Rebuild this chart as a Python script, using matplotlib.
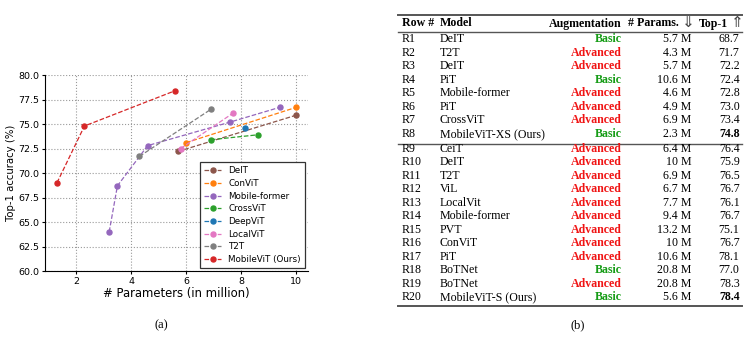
import numpy as np
import matplotlib
matplotlib.use("Agg")
import matplotlib.pyplot as plt

# model families: (params in million, top-1 accuracy)
deit_params = [5.7, 10.0]
deit_acc = [72.2, 75.9]
convit_params = [6.0, 10.0]
convit_acc = [73.1, 76.7]
mobileformer_params = [3.2, 3.5, 4.6, 7.6, 9.4]
mobileformer_acc = [64.0, 68.7, 72.8, 75.2, 76.7]
crossvit_params = [6.9, 8.6]
crossvit_acc = [73.4, 73.9]
deepvit_params = [8.15]
deepvit_acc = [74.6]
localvit_params = [5.8, 7.7]
localvit_acc = [72.5, 76.1]
t2t_params = [4.3, 6.9]
t2t_acc = [71.7, 76.5]
mobilevit_params = [1.3, 2.3, 5.6]
mobilevit_acc = [69.0, 74.8, 78.4]

# table rows
row_ids = ["R%d" % i for i in range(1, 21)]
models = ["DeIT", "T2T", "DeIT", "PiT", "Mobile-former", "PiT", "CrossViT",
          "MobileViT-XS (Ours)", "CeiT", "DeIT", "T2T", "ViL", "LocalVit",
          "Mobile-former", "PVT", "ConViT", "PiT", "BoTNet", "BoTNet",
          "MobileViT-S (Ours)"]
augment = ["Basic", "Advanced", "Advanced", "Basic", "Advanced", "Advanced",
           "Advanced", "Basic", "Advanced", "Advanced", "Advanced", "Advanced",
           "Advanced", "Advanced", "Advanced", "Advanced", "Advanced", "Basic",
           "Advanced", "Basic"]
params = [5.7, 4.3, 5.7, 10.6, 4.6, 4.9, 6.9, 2.3, 6.4, 10, 6.9, 6.7, 7.7,
          9.4, 13.2, 10, 10.6, 20.8, 20.8, 5.6]
top1 = [68.7, 71.7, 72.2, 72.4, 72.8, 73.0, 73.4, 74.8, 76.4, 75.9, 76.5,
        76.7, 76.1, 76.7, 75.1, 76.7, 78.1, 77.0, 78.3, 78.4]
ours = [7, 19]

fig = plt.figure(figsize=(7.55, 3.41), dpi=100)

# ---- (a) accuracy vs. size ----
ax = fig.add_axes([0.0596, 0.205, 0.3484, 0.575])
series = [
    ("DeIT", deit_params, deit_acc, "tab:brown"),
    ("ConViT", convit_params, convit_acc, "tab:orange"),
    ("Mobile-former", mobileformer_params, mobileformer_acc, "tab:purple"),
    ("CrossViT", crossvit_params, crossvit_acc, "tab:green"),
    ("DeepViT", deepvit_params, deepvit_acc, "tab:blue"),
    ("LocalViT", localvit_params, localvit_acc, "tab:pink"),
    ("T2T", t2t_params, t2t_acc, "tab:gray"),
    ("MobileViT (Ours)", mobilevit_params, mobilevit_acc, "tab:red"),
]
for name, xs, ys, c in series:
    ax.plot(xs, ys, "--o", color=c, label=name, markersize=3.6, linewidth=0.9)

ax.set_ylim(60, 80)
ax.set_yticks(np.arange(60, 80.1, 2.5))
ax.set_xticks([2, 4, 6, 8, 10])
ax.tick_params(labelsize=6.8, length=2.5, width=0.8, pad=1.5)
ax.set_xlabel("# Parameters (in million)", fontsize=8.4, labelpad=1)
ax.set_ylabel("Top-1 accuracy (%)", fontsize=7.3, labelpad=2)
ax.grid(True, linestyle=":", color="#999999", linewidth=0.8)
ax.spines["top"].set_visible(False)
ax.spines["right"].set_visible(False)
leg = ax.legend(loc="lower right", fontsize=6.3, framealpha=1, fancybox=False,
                edgecolor="#333333", borderpad=0.5, labelspacing=0.42,
                handlelength=2.0, handletextpad=0.8, borderaxespad=0.3)
leg.get_frame().set_linewidth(0.9)
fig.text(161 / 755, 1 - 325 / 341, "(a)", ha="center", va="center",
         fontsize=9, family="Liberation Serif")

# ---- (b) table drawn in pixel coordinates ----
tb = fig.add_axes([0, 0, 1, 1])
tb.set_xlim(0, 755)
tb.set_ylim(341, 0)
tb.axis("off")

serif = ["Liberation Serif", "DejaVu Sans"]
fs = 8.6
x_l, x_r = 398, 742
col_row, col_model, col_aug, col_par, col_top = 401.5, 439.5, 621.5, 691.5, 739.5
green, red = "#169c16", "#f01414"

tb.plot([x_l, x_r], [15, 15], color="#555555", lw=1.4)
tb.plot([x_l, x_r], [32.3, 32.3], color="#555555", lw=1.0)
tb.plot([x_l, x_r], [144, 144], color="#555555", lw=1.0)
tb.plot([x_l, x_r], [306, 306], color="#555555", lw=1.4)

hy = 23.5
tb.text(col_row, hy, "Row #", fontsize=fs, weight="bold", family=serif, va="center")
tb.text(col_model, hy, "Model", fontsize=fs, weight="bold", family=serif, va="center")
tb.text(col_aug, hy, "Augmentation", fontsize=fs, weight="bold", family=serif,
        va="center", ha="right")
tb.text(628, hy, "# Params.", fontsize=fs, weight="bold", family=serif, va="center")
tb.text(682, hy, "\u21d3", fontsize=fs + 2.5, family=serif, va="center", color="#444444")
tb.text(728, hy, "Top-1", fontsize=fs, weight="bold", family=serif, va="center", ha="right")
tb.text(731, hy, "\u21d1", fontsize=fs + 2.5, family=serif, va="center", color="#444444")

for i in range(len(row_ids)):
    if i < 8:
        y = 39.3 + i * 13.53
    else:
        y = 149 + (i - 8) * 13.48
    tb.text(col_row, y, row_ids[i], fontsize=fs, family=serif, va="center")
    tb.text(col_model, y, models[i], fontsize=fs, family=serif, va="center")
    tb.text(col_aug, y, augment[i], fontsize=fs, family=serif, va="center",
            ha="right", weight="bold",
            color=green if augment[i] == "Basic" else red)
    tb.text(col_par, y, "%g M" % params[i], fontsize=fs, family=serif,
            va="center", ha="right")
    tb.text(col_top, y, "%.1f" % top1[i], fontsize=fs, family=serif,
            va="center", ha="right", weight="bold" if i in ours else "normal")

tb.text(578, 325, "(b)", fontsize=9, family="Liberation Serif", ha="center", va="center")

fig.savefig("out.png", dpi=100)
